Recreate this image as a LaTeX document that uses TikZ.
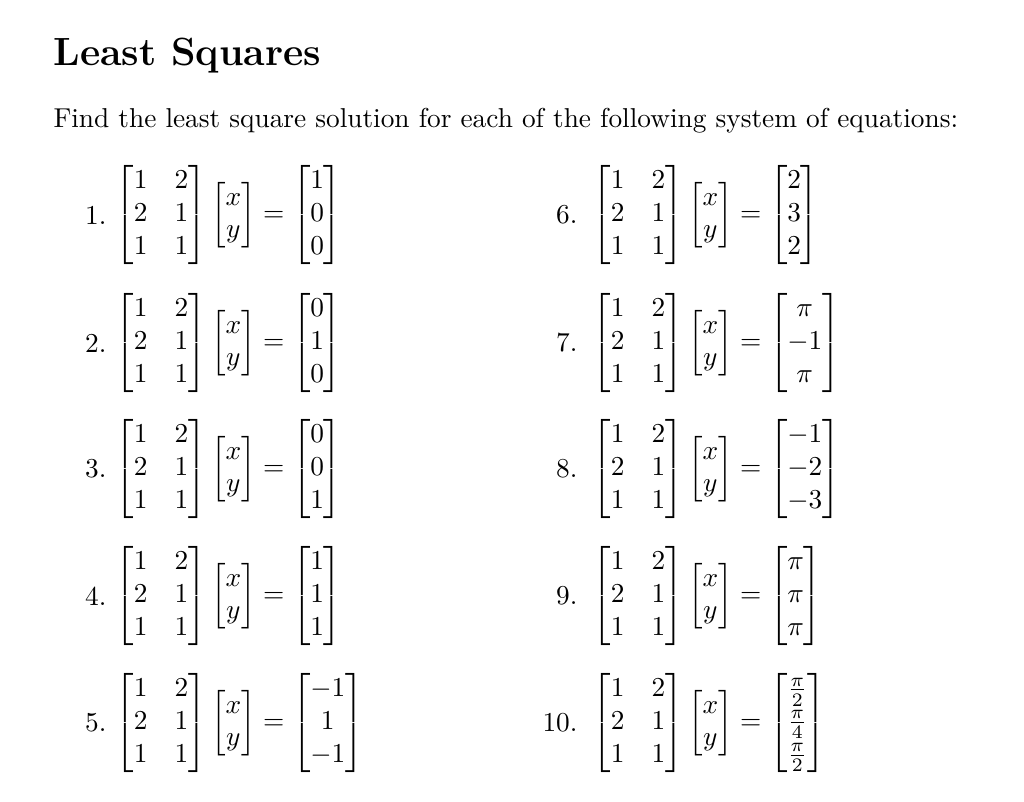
\documentclass[tikz,border=0pt]{standalone}
\usepackage{amsmath}
\begin{document}
\begin{tikzpicture}[x=0.366pt,y=-0.366pt,
  eq/.style={anchor=west,inner sep=0pt},
  num/.style={anchor=east,inner sep=0pt}]
\useasboundingbox (0,0) rectangle (1024,802);
\newcommand{\Amat}{\begin{bmatrix}1&2\\2&1\\1&1\end{bmatrix}\begin{bmatrix}x\\y\end{bmatrix}=}
\node[anchor=base west,inner sep=0pt] (title) at (53,66) {\Large\bfseries Least Squares};
\node[anchor=base west,inner sep=0pt] (intro) at (53,128) {Find the least square solution for each of the following system of equations:};
\node[eq] (e1) at (115,215) {$\Amat\begin{bmatrix}1\\0\\0\end{bmatrix}$};
\node[eq] (e2) at (115,343) {$\Amat\begin{bmatrix}0\\1\\0\end{bmatrix}$};
\node[eq] (e3) at (115,469) {$\Amat\begin{bmatrix}0\\0\\1\end{bmatrix}$};
\node[eq] (e4) at (115,596) {$\Amat\begin{bmatrix}1\\1\\1\end{bmatrix}$};
\node[eq] (e5) at (115,723) {$\Amat\begin{bmatrix}-1\\1\\-1\end{bmatrix}$};
\node[eq] (e6) at (592,215) {$\Amat\begin{bmatrix}2\\3\\2\end{bmatrix}$};
\node[eq] (e7) at (592,343) {$\Amat\begin{bmatrix}\pi\\-1\\\pi\end{bmatrix}$};
\node[eq] (e8) at (592,469) {$\Amat\begin{bmatrix}-1\\-2\\-3\end{bmatrix}$};
\node[eq] (e9) at (592,596) {$\Amat\begin{bmatrix}\pi\\\pi\\\pi\end{bmatrix}$};
\node[eq] (e10) at (592,723) {$\Amat\begin{bmatrix}\frac{\pi}{2}\\\frac{\pi}{4}\\\frac{\pi}{2}\end{bmatrix}$};
\foreach \i/\y in {1/215,2/343,3/469,4/596,5/723}
  \node[num] (n\i) at (107,\y) {\i.};
\foreach \i/\y in {6/215,7/343,8/469,9/596,10/723}
  \node[num] (n\i) at (578,\y) {\i.};
\end{tikzpicture}
\end{document}
